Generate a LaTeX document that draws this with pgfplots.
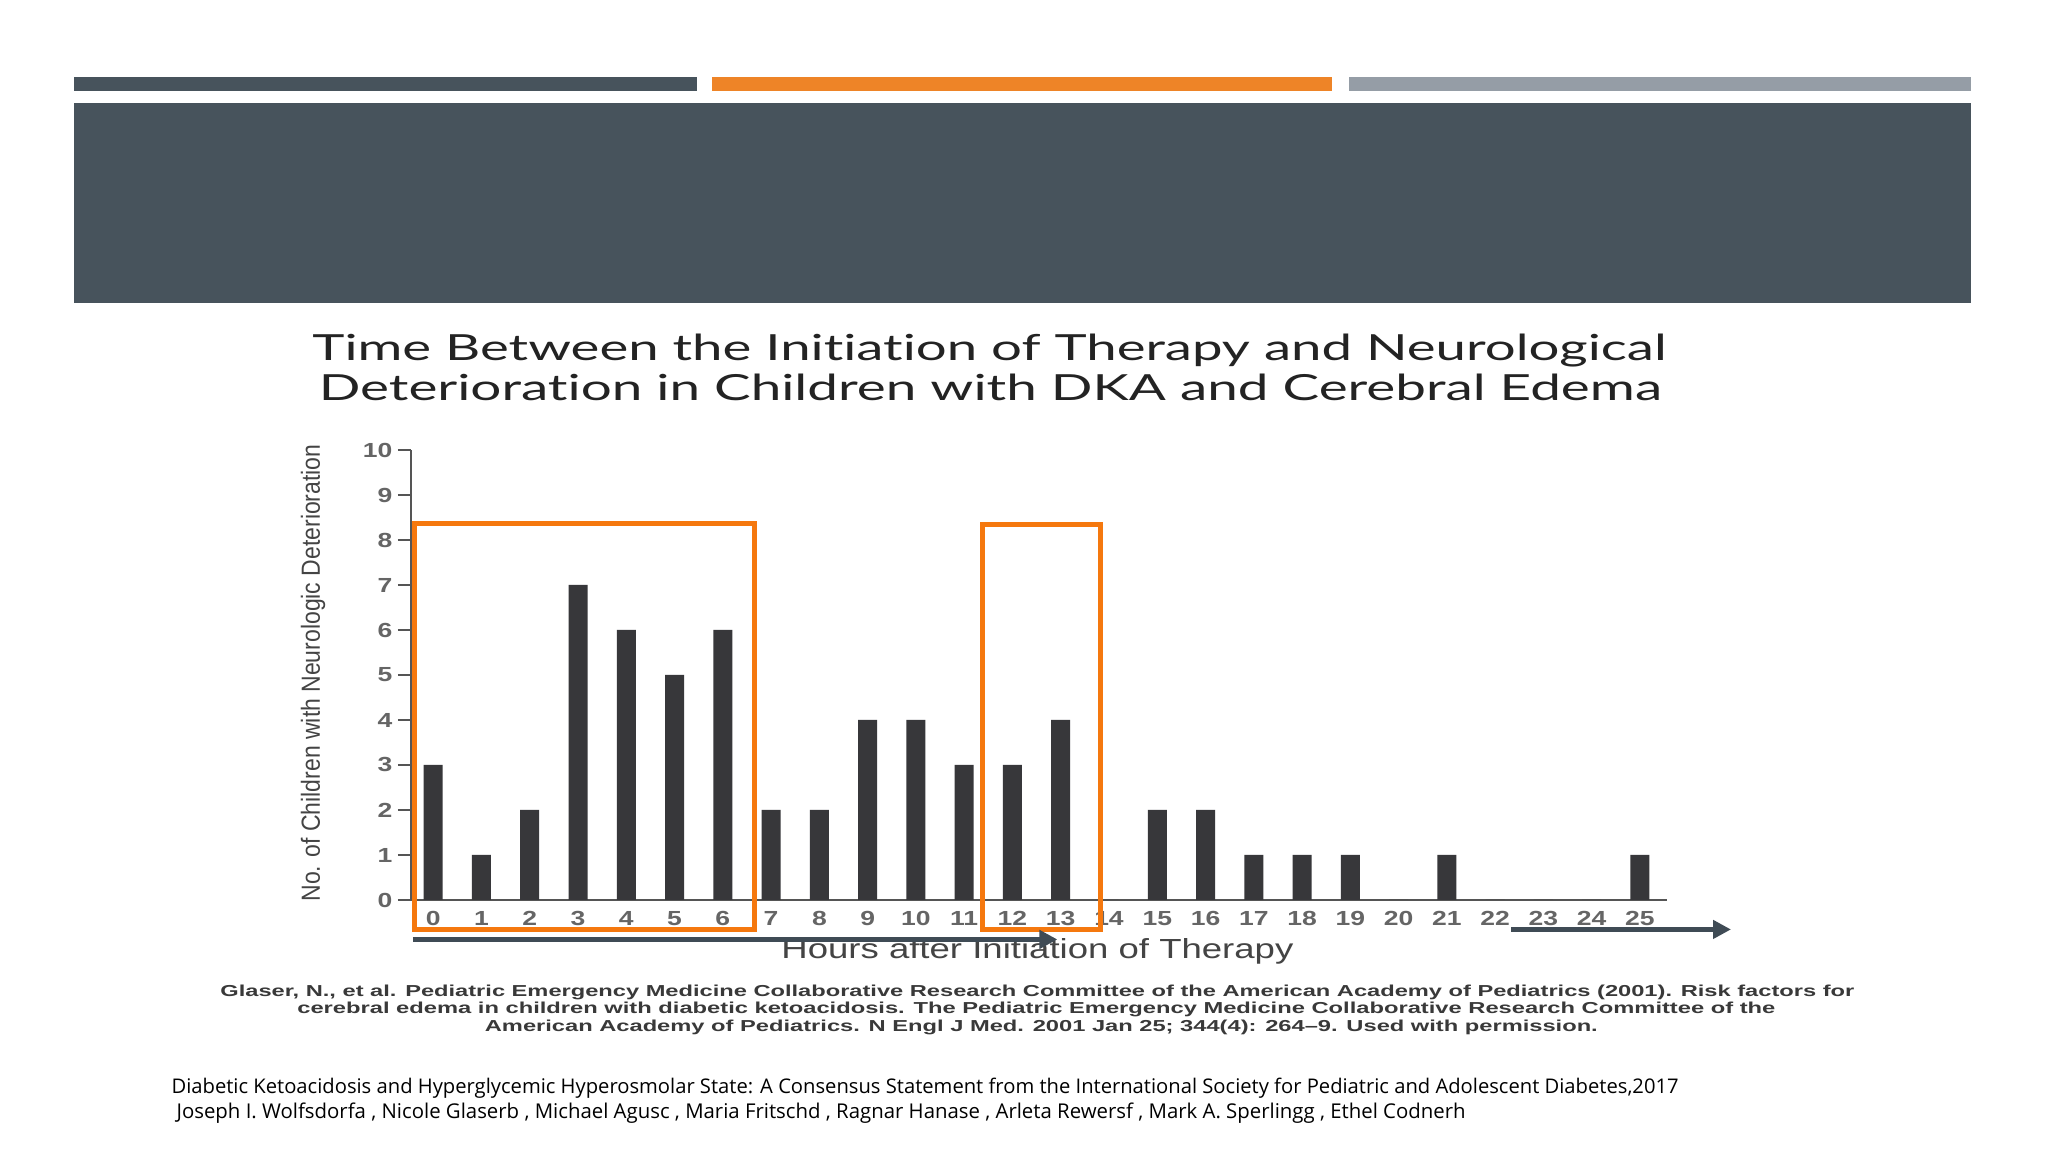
\documentclass[border=0pt]{standalone}
\usepackage{fontspec}
\setmainfont{Liberation Sans}
\newfontfamily\latofont[Ligatures=NoCommon]{Lato}
\newfontfamily\opensans{Open Sans}
\usepackage{graphicx}
\usepackage{pgfplots}
\pgfplotsset{compat=1.18}
\usetikzlibrary{arrows.meta}
\definecolor{slate}{RGB}{71,83,92}
\definecolor{orangebar}{RGB}{238,132,39}
\definecolor{greybar}{RGB}{149,157,166}
\definecolor{boxorange}{RGB}{245,120,14}
\definecolor{barcol}{RGB}{55,55,58}
\definecolor{axiscol}{RGB}{85,85,85}
\definecolor{arrowcol}{RGB}{63,75,85}
\definecolor{txt}{RGB}{35,35,35}
\begin{document}
\begin{tikzpicture}
\path[use as bounding box, fill=white] (0,0) rectangle (20.48cm,11.52cm);
\begin{scope}[x=0.01cm,y=-0.01cm,shift={(0cm,11.52cm)}]
\fill[slate] (74,77) rectangle (697,91);
\fill[orangebar] (712,77) rectangle (1333,91);
\fill[greybar] (1350,77) rectangle (1972,91);
\fill[slate] (74,103) rectangle (1972,303);
\node[inner sep=0, anchor=base, text=txt] at (990,361) {\resizebox{13.54cm}{0.265cm}{\latofont Time Between the Initiation of Therapy and Neurological}};
\node[inner sep=0, anchor=base, text=txt] at (991,401) {\resizebox{13.43cm}{0.265cm}{\latofont Deterioration in Children with DKA and Cerebral Edema}};
\node[inner sep=0, anchor=base, text=txt!85] at (1038,959) {\resizebox{5.12cm}{0.2cm}{Hours after Initiation of Therapy}};
\node[inner sep=0, anchor=base, text=txt!90] at (1038,997) {\resizebox{16.34cm}{0.115cm}{\bfseries Glaser, N., et al. Pediatric Emergency Medicine Collaborative Research Committee of the American Academy of Pediatrics (2001). Risk factors for}};
\node[inner sep=0, anchor=base, text=txt!90] at (1037,1014) {\resizebox{14.78cm}{0.115cm}{\bfseries cerebral edema in children with diabetic ketoacidosis. The Pediatric Emergency Medicine Collaborative Research Committee of the}};
\node[inner sep=0, anchor=base, text=txt!90] at (1042,1032) {\resizebox{11.13cm}{0.115cm}{\bfseries American Academy of Pediatrics. N Engl J Med. 2001 Jan 25; 344(4): 264--9. Used with permission.}};
\node[inner sep=0, anchor=base west, text=black] at (171,1094) {\resizebox{15.07cm}{!}{\opensans Diabetic Ketoacidosis and Hyperglycemic Hyperosmolar State: A Consensus Statement from the International Society for Pediatric and Adolescent Diabetes,2017}};
\node[inner sep=0, anchor=base west, text=black] at (176,1119) {\resizebox{12.89cm}{!}{\opensans Joseph I. Wolfsdorfa , Nicole Glaserb , Michael Agusc , Maria Fritschd , Ragnar Hanase , Arleta Rewersf , Mark A. Sperlingg , Ethel Codnerh}};
\end{scope}
\node[inner sep=0, rotate=90, text=txt!85] at (3.13cm,4.79cm) {\resizebox{4.57cm}{0.19cm}{No. of Children with Neurologic Deterioration}};
\begin{axis}[at={(4.11cm,2.52cm)}, anchor=south west, scale only axis,
  width=12.56cm, height=4.5cm,
  xmin=-0.46, xmax=25.56, ymin=0, ymax=10,
  axis lines=left, axis line style={-, draw=axiscol, line width=0.6pt},
  xtick={0,...,25}, ytick={0,...,10},
  tick align=outside, major tick length=0.13cm,
  xtick style={draw=none}, ytick style={draw=axiscol, line width=0.6pt},
  ticklabel style={font=\bfseries\fontsize{5.8}{6}\selectfont, text=txt!70, xscale=1.3},
  xticklabel style={inner sep=0pt, yshift=0.02cm},
  yticklabel style={xshift=0.08cm},
  /pgf/number format/assume math mode=true,
  ybar, bar width=0.19cm, clip=false]
\addplot[fill=barcol, draw=none] coordinates {
(0,3) (1,1) (2,2) (3,7) (4,6) (5,5) (6,6) (7,2) (8,2) (9,4) (10,4) (11,3) (12,3)
(13,4) (14,0) (15,2) (16,2) (17,1) (18,1) (19,1) (20,0) (21,1) (22,0) (23,0) (24,0) (25,1)};
\end{axis}
\begin{scope}[x=0.01cm,y=-0.01cm,shift={(0cm,11.52cm)}]
\draw[boxorange, line width=0.05cm] (415,524) rectangle (755,930);
\draw[boxorange, line width=0.05cm] (983,525) rectangle (1101,930);
\draw[arrowcol, line width=0.05cm, -{Triangle[length=0.18cm,width=0.18cm]}] (413,940) -- (1058,940);
\draw[arrowcol, line width=0.05cm, -{Triangle[length=0.18cm,width=0.18cm]}] (1512,930) -- (1732,930);
\end{scope}
\end{tikzpicture}
\end{document}
